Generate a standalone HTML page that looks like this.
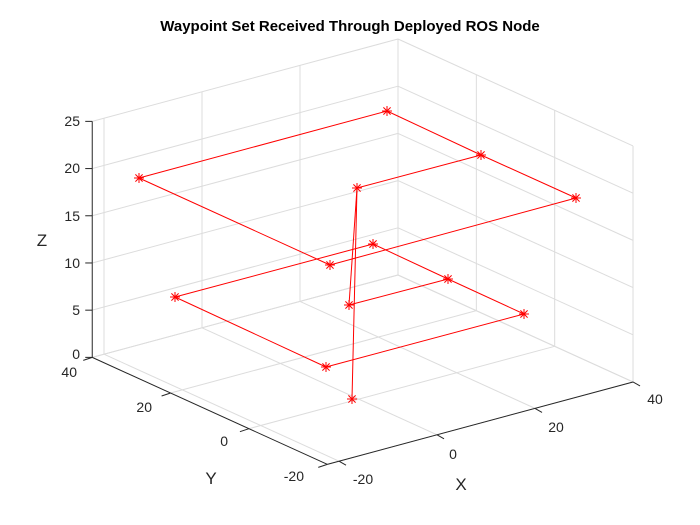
<!DOCTYPE html>
<html><head><meta charset="utf-8"><style>
html,body{margin:0;padding:0;background:#fff;}
svg{display:block;font-family:"Liberation Sans",Arial,sans-serif;}
</style></head><body>
<svg id="s" width="700" height="525" viewBox="0 0 700 525" xmlns="http://www.w3.org/2000/svg">
<rect width="700" height="525" fill="#fff"/>
<g id="grid" stroke="#dcdcdc" stroke-width="1" fill="none"></g>
<g id="axes" stroke="#262626" stroke-width="1" fill="none"></g>
<g id="data" stroke="#ff0000" stroke-width="1" fill="none"></g>
<g fill="#262626" font-size="14">
<text x="350" y="31" text-anchor="middle" font-weight="bold" fill="#000" font-size="15">Waypoint Set Received Through Deployed ROS Node</text>
<text x="80" y="126" text-anchor="end">25</text>
<text x="80" y="173" text-anchor="end">20</text>
<text x="80" y="221" text-anchor="end">15</text>
<text x="80" y="268" text-anchor="end">10</text>
<text x="80" y="315" text-anchor="end">5</text>
<text x="80" y="359" text-anchor="end">0</text>
<text x="42" y="246" text-anchor="middle" font-size="17">Z</text>
<text x="77" y="377" text-anchor="end">40</text>
<text x="152" y="412" text-anchor="end">20</text>
<text x="228" y="446" text-anchor="end">0</text>
<text x="304" y="481" text-anchor="end">-20</text>
<text x="211" y="484" text-anchor="middle" font-size="17">Y</text>
<text x="363" y="484" text-anchor="middle">-20</text>
<text x="453" y="459" text-anchor="middle">0</text>
<text x="556" y="432" text-anchor="middle">20</text>
<text x="655" y="404" text-anchor="middle">40</text>
<text x="461" y="490" text-anchor="middle" font-size="17">X</text>
</g>
</svg>
<script>
function P(x,y,z){return [398+(x-40)*4.9-(y-40)*3.917, 275-(x-40)*1.32-(y-40)*1.783-z*9.44];}
var NS="http://www.w3.org/2000/svg";
function L(g,a,b,extra){var l=document.createElementNS(NS,"line");l.setAttribute("x1",a[0]);l.setAttribute("y1",a[1]);l.setAttribute("x2",b[0]);l.setAttribute("y2",b[1]);document.getElementById(g).appendChild(l);}
var xm=-22.4,xM=40,ym=-20,yM=40,zM=25;
// left wall y=40, right wall x=40, floor z=0
for(var x=-20;x<=40;x+=20){L("grid",P(x,yM,0),P(x,yM,zM));L("grid",P(x,ym,0),P(x,yM,0));}
for(var y=-20;y<=40;y+=20){L("grid",P(xM,y,0),P(xM,y,zM));L("grid",P(xm,y,0),P(xM,y,0));}
for(var z=0;z<=25;z+=5){L("grid",P(xm,yM,z),P(xM,yM,z));L("grid",P(xM,yM,z),P(xM,ym,z));}
L("grid",P(xM,yM,zM),P(xM,yM,0));
// axes
L("axes",P(xm,yM,0),P(xm,yM,zM));
L("axes",P(xm,yM,0),P(xm,ym,0));
L("axes",P(xm,ym,0),P(xM,ym,0));
for(var z=0;z<=25;z+=5){var p=P(xm,yM,z);L("axes",p,[p[0]-7,p[1]+0]);}
for(var y=-20;y<=40;y+=20){var p=P(xm,y,0);L("axes",p,[p[0]-9,p[1]+3]);}
for(var x=-20;x<=40;x+=20){var p=P(x,ym,0);L("axes",p,[p[0]+7,p[1]+4]);}
// data
var pts={A:[139,178],B:[387,111],C:[481,155],D:[576,198],E:[330,265],F:[357,188],G:[373,244],H:[448,279],I:[524,314],J:[326,367],K:[175,297],Lp:[349,305],M:[352,399]};
var segs=[["A","B"],["B","C"],["C","D"],["D","E"],["E","A"],["C","F"],["F","Lp"],["F","M"],["Lp","H"],["G","H"],["H","I"],["I","J"],["J","K"],["K","G"]];
segs.forEach(function(s){L("data",pts[s[0]],pts[s[1]]);});
for(var k in pts){var c=pts[k],r=5,d=3.6;
L("data",[c[0]-r,c[1]],[c[0]+r,c[1]]);L("data",[c[0],c[1]-r],[c[0],c[1]+r]);
L("data",[c[0]-d,c[1]-d],[c[0]+d,c[1]+d]);L("data",[c[0]-d,c[1]+d],[c[0]+d,c[1]-d]);}
</script>
</body></html>
